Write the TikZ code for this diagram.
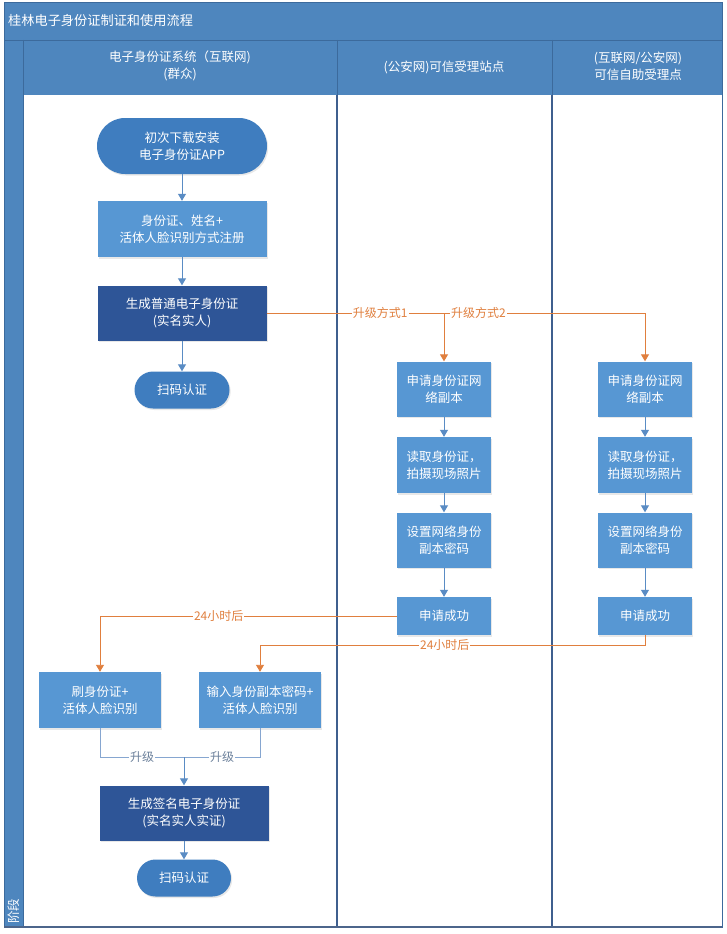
\documentclass[tikz,border=0pt]{standalone}
\usepackage{fontspec}
\setmainfont{Noto Sans CJK SC}
\usetikzlibrary{arrows.meta,shadows}
\definecolor{hdr}{HTML}{4E86BE}
\definecolor{hdrline}{HTML}{3C6A9C}
\definecolor{laneline}{HTML}{3F5F8E}
\definecolor{stad}{HTML}{3F7DBF}
\definecolor{lbox}{HTML}{5797D3}
\definecolor{dbox}{HTML}{2E5597}
\definecolor{barr}{HTML}{5A8CC4}
\definecolor{oarr}{HTML}{E07F3E}
\definecolor{garr}{HTML}{86A6D0}
\definecolor{gtext}{HTML}{6A7F9A}
\begin{document}
\begin{tikzpicture}[x=1pt,y=-1pt,
  txt/.style={text=white,align=center,font=\fontsize{12.5}{17}\selectfont,inner sep=0pt,
    drop shadow={opacity=0.18,shadow xshift=1.2pt,shadow yshift=-1.5pt}},
  stadium/.style={txt,fill=stad,rounded corners=#1},
  lightbox/.style={txt,fill=lbox},
  darkbox/.style={txt,fill=dbox},
  barrow/.style={draw=barr,line width=1pt,-{Triangle[width=8pt,length=7pt]}},
  oarrow/.style={draw=oarr,line width=0.9pt,-{Triangle[width=8pt,length=7pt]}},
  garrow/.style={draw=garr,line width=0.9pt},
  olabel/.style={fill=white,text=oarr,inner sep=1pt,font=\fontsize{12}{14}\selectfont},
  glabel/.style={fill=white,text=gtext,inner sep=1pt,font=\fontsize{12}{14}\selectfont},
  hdrtext/.style={text=white,align=center,font=\fontsize{12.5}{17}\selectfont,inner sep=0pt}]
\useasboundingbox (0,0) rectangle (727,934);
\fill[white] (0,0) rectangle (727,934);
% frame
\fill[hdr] (4,3) rectangle (722,95);
\fill[hdr] (4,95) rectangle (23,927);
\draw[hdrline,line width=0.8pt] (4,40) -- (722,40);
\draw[hdrline,line width=0.8pt] (23,40) -- (23,927);
\draw[hdrline,line width=0.8pt] (337,40) -- (337,95);
\draw[hdrline,line width=0.8pt] (552,40) -- (552,95);
\draw[laneline,line width=1.2pt] (337,95) -- (337,927);
\draw[laneline,line width=1.2pt] (552,95) -- (552,927);
\draw[hdrline,line width=1pt] (4,3) rectangle (722,927);
\draw[laneline!80!gray,line width=1.5pt] (4,927) -- (722,927);
\node[hdrtext,anchor=west,font=\fontsize{13.2}{16}\selectfont] (title) at (8,21) {桂林电子身份证制证和使用流程};
\node[hdrtext] (h1) at (180,66) {电子身份证系统（互联网)\\(群众)};
\node[hdrtext] (h2) at (444,67) {(公安网)可信受理站点};
\node[hdrtext] (h3) at (638,66) {(互联网/公安网)\\可信自助受理点};
\node[hdrtext,rotate=90] (stage) at (14,911) {阶段};
% lane 1
\node[stadium=28pt,minimum width=170pt,minimum height=56pt] (n1) at (182,146) {初次下载安装\\电子身份证APP};
\node[lightbox,minimum width=169pt,minimum height=56pt] (n2) at (182,229) {身份证、姓名+\\活体人脸识别方式注册};
\node[darkbox,minimum width=169pt,minimum height=55pt] (n3) at (182,313) {生成普通电子身份证\\(实名实人)};
\node[stadium=18.5pt,minimum width=95pt,minimum height=37pt] (n4) at (182,390) {扫码认证};
% lane 2
\node[lightbox,minimum width=94pt,minimum height=55pt] (a1) at (444,389) {申请身份证网\\络副本};
\node[lightbox,minimum width=94pt,minimum height=56pt] (a2) at (444,465) {读取身份证，\\拍摄现场照片};
\node[lightbox,minimum width=94pt,minimum height=55pt] (a3) at (444,540) {设置网络身份\\副本密码};
\node[lightbox,minimum width=94pt,minimum height=38pt] (a4) at (444,616) {申请成功};
% lane 3
\node[lightbox,minimum width=94pt,minimum height=55pt] (b1) at (645,389) {申请身份证网\\络副本};
\node[lightbox,minimum width=94pt,minimum height=56pt] (b2) at (645,465) {读取身份证，\\拍摄现场照片};
\node[lightbox,minimum width=94pt,minimum height=55pt] (b3) at (645,540) {设置网络身份\\副本密码};
\node[lightbox,minimum width=94pt,minimum height=38pt] (b4) at (645,616) {申请成功};
% bottom of lane 1
\node[lightbox,minimum width=122pt,minimum height=56pt] (c1) at (100,700) {刷身份证+\\活体人脸识别};
\node[lightbox,minimum width=122pt,minimum height=56pt] (c2) at (260,700) {输入身份副本密码+\\活体人脸识别};
\node[darkbox,minimum width=169pt,minimum height=55pt] (d1) at (184,813) {生成签名电子身份证\\(实名实人实证)};
\node[stadium=18.5pt,minimum width=94pt,minimum height=37pt] (d2) at (184,878) {扫码认证};
% blue arrows
\draw[barrow] (n1) -- (n2);
\draw[barrow] (n2) -- (n3);
\draw[barrow] (n3) -- (n4);
\draw[barrow] (a1) -- (a2);
\draw[barrow] (a2) -- (a3);
\draw[barrow] (a3) -- (a4);
\draw[barrow] (b1) -- (b2);
\draw[barrow] (b2) -- (b3);
\draw[barrow] (b3) -- (b4);
\draw[barrow] (d1) -- (d2);
% orange connectors
\draw[oarrow] (n3.east) -| node[olabel,pos=0.28] {升级方式2} (b1.north);
\draw[oarrow] (n3.east) -| node[olabel,pos=0.32] {升级方式1} (a1.north);
\draw[oarrow] (a4.west) -| node[olabel,pos=0.3] {24小时后} (c1.north);
\coordinate (k) at (645,645);
\draw[oarrow] (b4.south) -- (k) -| node[olabel,pos=0.26] {24小时后} (c2.north);
% upgrade merge
\coordinate (m) at (184,757);
\draw[garrow] (c1.south) |- node[glabel,pos=0.75] {升级} (m);
\draw[garrow] (c2.south) |- node[glabel,pos=0.75] {升级} (m);
\draw[barrow] (m) -- (d1.north);
\end{tikzpicture}
\end{document}
